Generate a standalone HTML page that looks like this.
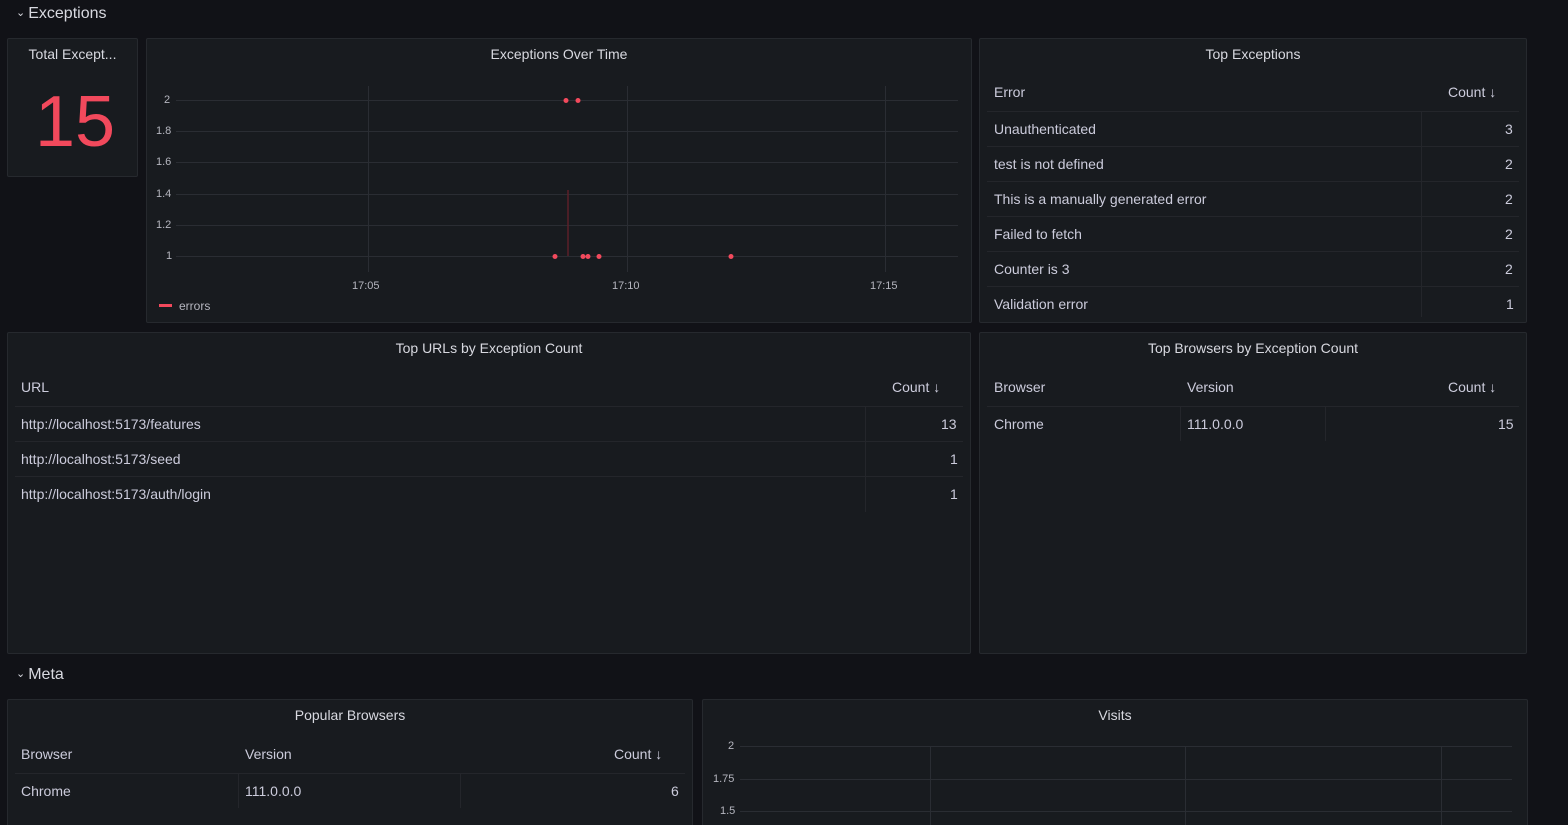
<!DOCTYPE html>
<html style="overflow:hidden;height:825px"><head><style>
*{margin:0;padding:0;box-sizing:border-box}
body{width:1568px;height:825px;background:#111217;font-family:"Liberation Sans",sans-serif;color:#ccccdc;position:relative;overflow:hidden;font-size:14px}
.p{position:absolute;background:#181b1f;border:1px solid #26292e;border-radius:2px}
.t{position:absolute;left:0;right:0;top:7px;text-align:center;font-size:14px;color:#d8d9e0}
.a{position:absolute;white-space:nowrap}
.row{position:absolute;height:1px;background:#24262b}
.vl{position:absolute;width:1px;background:#24262b}
.sec{position:absolute;left:16px;font-size:16px;color:#d8d9e0}
.sec span{font-size:11px;position:relative;top:-2px;margin-right:3px}
.tick{position:absolute;font-size:11px;color:#b5b6bf}
</style></head><body>
<div class="sec" style="top:5px"><span>⌄</span>Exceptions</div>

<div class="p" style="left:7px;top:38px;width:131px;height:139px">
<div class="t">Total Except...</div>
<div class="a" style="left:27px;top:48px;font-size:72px;color:#f2495c;line-height:70px">15</div>
</div>

<div class="p" style="left:146px;top:38px;width:826px;height:285px">
<div class="t">Exceptions Over Time</div>
</div>
<svg class="a" style="left:0;top:0" width="1568" height="825">
<g stroke="#2a2d33" stroke-width="1">
<line x1="176" y1="100.5" x2="958" y2="100.5"/><line x1="176" y1="131.5" x2="958" y2="131.5"/><line x1="176" y1="162.5" x2="958" y2="162.5"/><line x1="176" y1="194.5" x2="958" y2="194.5"/><line x1="176" y1="225.5" x2="958" y2="225.5"/><line x1="176" y1="256.5" x2="958" y2="256.5"/>
<line x1="368.5" y1="86" x2="368.5" y2="272"/><line x1="627.5" y1="86" x2="627.5" y2="272"/><line x1="885.5" y1="86" x2="885.5" y2="272"/>
<line x1="740" y1="746.5" x2="1512" y2="746.5"/><line x1="740" y1="779.5" x2="1512" y2="779.5"/><line x1="740" y1="811.5" x2="1512" y2="811.5"/>
<line x1="930.5" y1="746" x2="930.5" y2="825"/><line x1="1185.5" y1="746" x2="1185.5" y2="825"/><line x1="1441.5" y1="746" x2="1441.5" y2="825"/>
</g>
<line x1="568" y1="190" x2="568" y2="256" stroke="#5a2029" stroke-width="1.5"/>
<g fill="#f2495c"><circle cx="555" cy="256.5" r="2.5"/><circle cx="583" cy="256.5" r="2.5"/><circle cx="588" cy="256.5" r="2.5"/><circle cx="599" cy="256.5" r="2.5"/><circle cx="731" cy="256.5" r="2.5"/><circle cx="566" cy="100.5" r="2.5"/><circle cx="578" cy="100.5" r="2.5"/></g>
<rect x="159" y="304" width="13" height="3" fill="#f2495c"/>
</svg>
<div class="tick" style="left:164px;top:94px">2</div>
<div class="tick" style="left:156px;top:125px">1.8</div>
<div class="tick" style="left:156px;top:156px">1.6</div>
<div class="tick" style="left:156px;top:188px">1.4</div>
<div class="tick" style="left:156px;top:219px">1.2</div>
<div class="tick" style="left:166px;top:250px">1</div>
<div class="tick" style="left:352px;top:280px">17:05</div>
<div class="tick" style="left:612px;top:280px">17:10</div>
<div class="tick" style="left:870px;top:280px">17:15</div>
<div class="tick" style="left:179px;top:299px;font-size:12px">errors</div>

<div class="p" style="left:979px;top:38px;width:548px;height:285px">
<div class="t">Top Exceptions</div>
</div>
<div class="a" style="left:994px;top:84px">Error</div>
<div class="a" style="left:1448px;top:84px">Count ↓</div>
<div class="row" style="left:987px;top:111px;width:532px"></div>
<div class="row" style="left:987px;top:146px;width:532px"></div>
<div class="row" style="left:987px;top:181px;width:532px"></div>
<div class="row" style="left:987px;top:216px;width:532px"></div>
<div class="row" style="left:987px;top:251px;width:532px"></div>
<div class="row" style="left:987px;top:286px;width:532px"></div>
<div class="vl" style="left:1421px;top:111px;height:206px"></div>
<div class="a" style="left:994px;top:121px">Unauthenticated</div><div class="a" style="left:1505px;top:121px">3</div>
<div class="a" style="left:994px;top:156px">test is not defined</div><div class="a" style="left:1505px;top:156px">2</div>
<div class="a" style="left:994px;top:191px">This is a manually generated error</div><div class="a" style="left:1505px;top:191px">2</div>
<div class="a" style="left:994px;top:226px">Failed to fetch</div><div class="a" style="left:1505px;top:226px">2</div>
<div class="a" style="left:994px;top:261px">Counter is 3</div><div class="a" style="left:1505px;top:261px">2</div>
<div class="a" style="left:994px;top:296px">Validation error</div><div class="a" style="left:1506px;top:296px">1</div>

<div class="p" style="left:7px;top:332px;width:964px;height:322px">
<div class="t">Top URLs by Exception Count</div>
</div>
<div class="a" style="left:21px;top:379px">URL</div>
<div class="a" style="left:892px;top:379px">Count ↓</div>
<div class="row" style="left:15px;top:406px;width:948px"></div>
<div class="row" style="left:15px;top:441px;width:948px"></div>
<div class="row" style="left:15px;top:476px;width:948px"></div>
<div class="vl" style="left:865px;top:406px;height:106px"></div>
<div class="a" style="left:21px;top:416px">http://localhost:5173/features</div><div class="a" style="left:941px;top:416px">13</div>
<div class="a" style="left:21px;top:451px">http://localhost:5173/seed</div><div class="a" style="left:950px;top:451px">1</div>
<div class="a" style="left:21px;top:486px">http://localhost:5173/auth/login</div><div class="a" style="left:950px;top:486px">1</div>

<div class="p" style="left:979px;top:332px;width:548px;height:322px">
<div class="t">Top Browsers by Exception Count</div>
</div>
<div class="a" style="left:994px;top:379px">Browser</div>
<div class="a" style="left:1187px;top:379px">Version</div>
<div class="a" style="left:1448px;top:379px">Count ↓</div>
<div class="row" style="left:987px;top:406px;width:532px"></div>
<div class="vl" style="left:1180px;top:406px;height:35px"></div>
<div class="vl" style="left:1325px;top:406px;height:35px"></div>
<div class="a" style="left:994px;top:416px">Chrome</div><div class="a" style="left:1187px;top:416px">111.0.0.0</div><div class="a" style="left:1498px;top:416px">15</div>

<div class="sec" style="top:666px"><span>⌄</span>Meta</div>

<div class="p" style="left:7px;top:699px;width:686px;height:130px">
<div class="t">Popular Browsers</div>
</div>
<div class="a" style="left:21px;top:746px">Browser</div>
<div class="a" style="left:245px;top:746px">Version</div>
<div class="a" style="left:614px;top:746px">Count ↓</div>
<div class="row" style="left:15px;top:773px;width:670px"></div>
<div class="vl" style="left:238px;top:773px;height:35px"></div>
<div class="vl" style="left:460px;top:773px;height:35px"></div>
<div class="a" style="left:21px;top:783px">Chrome</div><div class="a" style="left:245px;top:783px">111.0.0.0</div><div class="a" style="left:671px;top:783px">6</div>

<div class="p" style="left:702px;top:699px;width:826px;height:130px">
<div class="t">Visits</div>
</div>
<svg class="a" style="left:0;top:0" width="1568" height="825">
<g stroke="#2a2d33"><line x1="740" y1="746.5" x2="1512" y2="746.5"/><line x1="740" y1="779.5" x2="1512" y2="779.5"/><line x1="740" y1="811.5" x2="1512" y2="811.5"/>
<line x1="930.5" y1="746" x2="930.5" y2="825"/><line x1="1185.5" y1="746" x2="1185.5" y2="825"/><line x1="1441.5" y1="746" x2="1441.5" y2="825"/></g></svg>
<div class="tick" style="left:728px;top:740px">2</div>
<div class="tick" style="left:713px;top:773px">1.75</div>
<div class="tick" style="left:720px;top:805px">1.5</div>
</body></html>
